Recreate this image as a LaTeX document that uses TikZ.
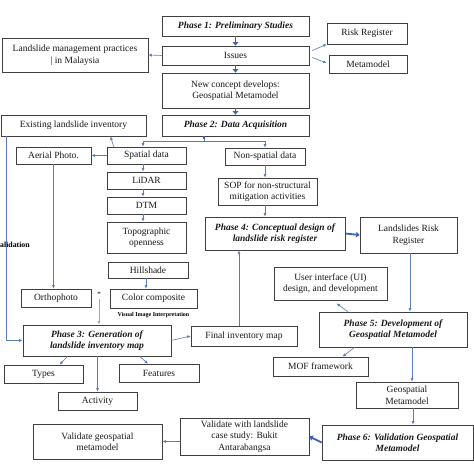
\documentclass[tikz,border=0pt]{standalone}
\usepackage{fontspec}
\setmainfont{Liberation Serif}
\usetikzlibrary{arrows.meta,calc}
\definecolor{lineblue}{HTML}{5A7DB8}
\definecolor{arrowblue}{HTML}{3D62B0}
\definecolor{boxline}{HTML}{404040}
\tikzset{
  box/.style={draw=boxline, line width=0.7pt, fill=white, align=center,
    font=\fontsize{9.5}{11.5}\selectfont, inner sep=1pt, text=black!90},
  ph/.style={box, font=\fontsize{9.5}{11.5}\selectfont\bfseries\itshape},
  conn/.style={draw=lineblue, line width=0.6pt, -{Latex[length=3.5pt,width=3pt]}},
  plain/.style={draw=lineblue, line width=0.6pt},
  big/.style={draw=arrowblue, line width=1.8pt, -{Triangle[length=3.5pt,width=5.5pt]}},
}
\begin{document}
\begin{tikzpicture}[x=1pt,y=-1pt]
\useasboundingbox (0,0) rectangle (474,474);
\fill[white] (0,0) rectangle (474,474);

% Phase 1 column
\node[ph, minimum width=147pt, minimum height=20pt] (p1) at (235.5,26) {Phase 1: Preliminary Studies};
\node[box, minimum width=147pt, minimum height=19pt] (issues) at (235.5,55.5) {Issues};
\node[box, minimum width=146pt, minimum height=34pt] (lmp) at (75,55) {Landslide management practices\\| in Malaysia};
\node[box, minimum width=147pt, minimum height=35pt] (newc) at (235.5,90.5) {New concept develops:\\Geospatial Metamodel};
\node[box, minimum width=80pt, minimum height=21pt] (rr) at (367,33.5) {Risk Register};
\node[box, minimum width=78pt, minimum height=18pt] (meta) at (368,64) {Metamodel};

% Phase 2
\node[ph, minimum width=147pt, minimum height=21pt] (p2) at (235.5,125.5) {Phase 2: Data Acquisition};
\node[box, minimum width=145pt, minimum height=21pt] (eli) at (73.5,125.5) {Existing landslide inventory};
\node[box, minimum width=79pt, minimum height=17pt] (spatial) at (146.5,155.5) {Spatial data};
\node[box, minimum width=75pt, minimum height=17pt] (aerial) at (53.5,155.5) {Aerial Photo.};
\node[box, minimum width=79pt, minimum height=17pt] (lidar) at (146.5,180.5) {LiDAR};
\node[box, minimum width=79pt, minimum height=17pt] (dtm) at (146.5,205.5) {DTM};
\node[box, minimum width=79pt, minimum height=31pt] (topo) at (146.5,237.5) {Topographic\\openness};
\node[box, minimum width=80pt, minimum height=16pt] (hill) at (148,270) {Hillshade};
\node[box, minimum width=87pt, minimum height=19pt] (color) at (153.5,298.5) {Color composite};
\node[font=\fontsize{6}{7}\selectfont\bfseries, inner sep=0pt] (vii) at (153.5,315.5) {Visual Image Interpretation};
\node[box, minimum width=70pt, minimum height=18pt] (ortho) at (56,298) {Orthophoto};
\node[font=\fontsize{7}{8}\selectfont, inner sep=0pt] (star) at (99,294) {*};
\node[font=\fontsize{7.8}{9}\selectfont\bfseries, inner sep=0pt, anchor=west] (valid) at (0,245) {alidation};

\node[box, minimum width=80pt, minimum height=17pt] (nonsp) at (265,156.5) {Non-spatial data};
\node[box, minimum width=99pt, minimum height=27pt] (sop) at (267.5,191.5) {SOP for non-structural\\mitigation activities};

% Phase 3
\node[ph, minimum width=148pt, minimum height=31pt] (p3) at (97,340.5) {Phase 3: Generation of\\landslide inventory map};
\node[box, minimum width=106pt, minimum height=20pt] (final) at (244,336) {Final inventory map};
\node[box, minimum width=79pt, minimum height=18pt] (types) at (43.5,374) {Types};
\node[box, minimum width=80pt, minimum height=18pt] (features) at (159,373) {Features};
\node[box, minimum width=79pt, minimum height=18pt] (activity) at (97.5,401) {Activity};

% Phase 4
\node[ph, minimum width=140pt, minimum height=33pt] (p4) at (275,233.5) {Phase 4: Conceptual design of\\landslide risk register};
\node[box, minimum width=97pt, minimum height=36pt] (lrr) at (408.5,235) {Landslides Risk\\Register};

% Phase 5
\node[box, minimum width=113pt, minimum height=33pt] (ui) at (330.5,283.5) {User interface (UI)\\design, and development};
\node[ph, minimum width=148pt, minimum height=35pt] (p5) at (393,329.5) {Phase 5: Development of\\Geospatial Metamodel};
\node[box, minimum width=95pt, minimum height=19pt] (mof) at (320.5,366.5) {MOF framework};
\node[box, minimum width=102pt, minimum height=26pt] (gm) at (407,395) {Geospatial\\Metamodel};

% Phase 6
\node[ph, minimum width=151pt, minimum height=35pt] (p6) at (397.5,442.5) {Phase 6: Validation Geospatial\\Metamodel};
\node[box, minimum width=129pt, minimum height=37pt] (valw) at (244.5,436.5) {Validate with landslide\\case study: Bukit\\Antarabangsa};
\node[box, minimum width=129pt, minimum height=35pt] (vgm) at (97.5,441.5) {Validate geospatial\\metamodel};

% ---- connectors ----
\draw[big] (p1) -- (issues);
\draw[big] (issues) -- (newc);
\draw[big] (newc) -- (p2);
\draw[conn] (issues.west) -- (lmp.east);
\draw[conn] ($(issues.east)+(3,-5)$) -- (rr.south west);
\draw[conn] ($(issues.east)+(3,2)$) -- ($(meta.west)+(-2,-1)$);

\coordinate (br) at (204,141);
\draw[plain] (p2.south -| br) -- (br);
\draw[arrowblue, line width=1.8pt] (p2.south -| br) -- ++(0,3);
\draw[conn] (br) -| (spatial.north -| 143,0);
\draw[conn] (br) -| (nonsp.north);
\draw[conn] ($(spatial.north west)+(7,0)$) -- ($(eli.south)+(37,0)$);
\draw[conn] (spatial.west) -- (aerial.east);
\draw[conn] (spatial.south -| 143,0) -- (lidar.north -| 143,0);
\draw[conn] (lidar.south -| 143,0) -- (dtm.north -| 143,0);
\draw[conn] (dtm.south -| 143,0) -- (topo.north -| 143,0);
\draw[conn] (hill.south -| 146,0) -- (color.north -| 146,0);
\draw[conn] (aerial.south) -- (ortho.north -| aerial.south);
\draw[conn] (eli.south -| 6,0) |- (p3.west);
\draw[conn, draw=gray!70] ($(star.south)+(0,3)$) -- (p3.north -| star);
\draw[conn] (p3.east) -- (final.west);
\draw[conn] (final.north -| 239,0) -- (p4.south -| 239,0);
\draw[conn] (nonsp.south) -- (sop.north -| nonsp.south);
\draw[conn] (sop.south -| nonsp.south) -- (p4.north -| nonsp.south);
\draw[big] (p4.east) -- (lrr.west);
\draw[conn] (lrr.south -| 410,0) -- (p5.north -| 410,0);
\draw[conn] ($(p5.north west)+(29,0)$) -- ($(ui.south)+(6,3)$);
\draw[conn] ($(p5.south west)+(36,0)$) -- ($(mof.north)+(22,0)$);
\draw[conn] (p5.south -| 412,0) -- (gm.north -| 412,0);
\draw[conn] (gm.south -| 413,0) -- (p6.north -| 413,0);
\draw[big] (p6.west) -- (valw.east);
\draw[conn] (valw.west |- vgm.east) -- (vgm.east);
\draw[conn] ($(p3.south west)+(45,0)$) -- ($(types.north)+(16,0)$);
\draw[conn] ($(p3.south west)+(117,0)$) -- ($(features.north)+(-11,0)$);
\draw[conn] (p3.south -| activity.north) -- (activity.north);
\end{tikzpicture}
\end{document}
